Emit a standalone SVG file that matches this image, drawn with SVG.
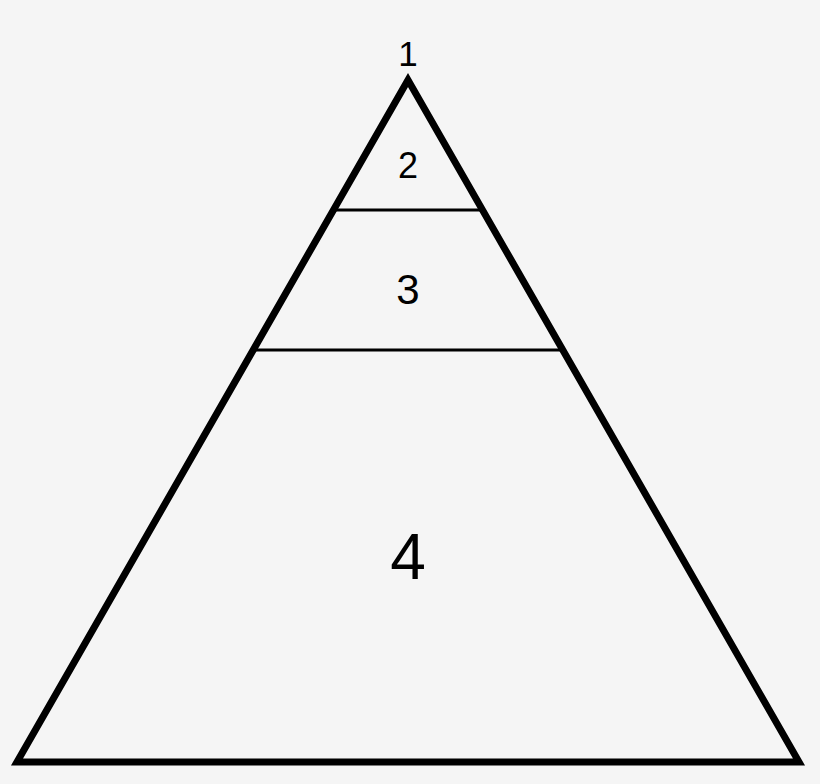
<svg xmlns="http://www.w3.org/2000/svg" width="820" height="784" viewBox="0 0 820 784">
<style>
.lbl{font-family:"Liberation Sans",Arial,sans-serif;fill:#000;text-anchor:middle}
.edge{stroke:#000;fill:none}
</style>
<rect x="0" y="0" width="820" height="784" fill="#f5f5f5"/>
<g id="pyramid">
<polygon class="edge" points="408,80 17,762 799,762" stroke-width="7" stroke-linejoin="miter"/>
</g>
<g id="connectors">
<line class="edge" x1="335" y1="210" x2="481" y2="210" stroke-width="3"/>
<line class="edge" x1="255" y1="350" x2="561" y2="350" stroke-width="3"/>
</g>
<g id="node1"><text class="lbl" x="408" y="66" font-size="35">1</text></g>
<g id="node2"><text class="lbl" x="408" y="178" font-size="36">2</text></g>
<g id="node3"><text class="lbl" x="408" y="304" font-size="42">3</text></g>
<g id="node4"><text class="lbl" x="408" y="579" font-size="64">4</text></g>
</svg>
